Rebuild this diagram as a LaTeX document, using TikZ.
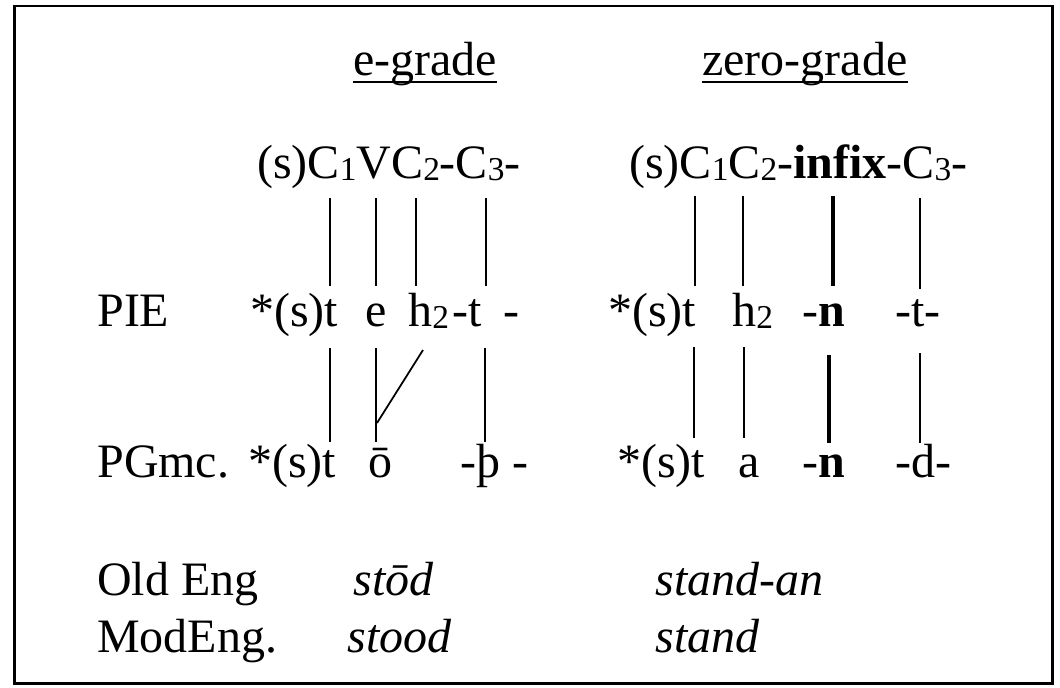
\documentclass[tikz,border=0pt]{standalone}
\usepackage{fontspec}
\setmainfont{Liberation Serif}
\usetikzlibrary{calc}

\newcommand{\subdig}[1]{\raisebox{-0.05em}{\fontsize{19}{19}\selectfont #1}}

\tikzset{
    word/.style={anchor=base west, inner sep=0pt},
    link/.style={line width=1pt},
    boldlink/.style={line width=2.1pt},
}

\begin{document}
\begin{tikzpicture}[x=0.02cm, y=-0.02cm, font=\fontsize{27.3}{33}\selectfont]
    \useasboundingbox (0, 0) rectangle (1060, 687);
    \draw[line width=1.7pt] (14.5, 6) rectangle (1052, 683.5);

    % headings
    \node[word] (egrade) at (353, 75) {e-grade};
    \node[word] (zgrade) at (702, 75) {zero-grade};
    \draw[line width=0.8pt] ($(egrade.base west)+(0, 7)$) -- ($(egrade.base east)+(0, 7)$);
    \draw[line width=0.8pt] ($(zgrade.base west)+(0, 7)$) -- ($(zgrade.base east)+(0, 7)$);

    % root shapes
    \node[word] (eroot) at (257, 178) {(s)C\subdig{1}VC\subdig{2}-C\subdig{3}-};
    \node[word] (zroot) at (629, 178) {(s)C\subdig{1}C\subdig{2}-\textbf{infix}-C\subdig{3}-};

    % row labels
    \node[word] (pie) at (97, 326) {PIE};
    \node[word] (pgmc) at (97, 477) {PGmc.};
    \node[word] (oe) at (97, 595) {Old Eng};
    \node[word] (mode) at (97, 652) {ModEng.};

    % PIE forms
    \node[word] (pieSt) at (250, 326) {*(s)t};
    \node[word] (pieE) at (365, 326) {e};
    \node[word] (pieH) at (408, 326) {h\subdig{2}};
    \node[word] (pieT) at (452, 326) {-t};
    \node[word] (pieDash) at (503, 326) {-};
    \node[word] (pieZSt) at (608, 326) {*(s)t};
    \node[word] (pieZH) at (732, 326) {h\subdig{2}};
    \node[word] (pieZN) at (802, 326) {-\textbf{n}};
    \node[word] (pieZT) at (895, 326) {-t-};

    % PGmc forms
    \node[word] (gmSt) at (248, 477) {*(s)t};
    \node[word] (gmO) at (368, 477) {ō};
    \node[word] (gmTh) at (460, 477) {-þ};
    \node[word] (gmDash) at (512, 477) {-};
    \node[word] (gmZSt) at (617, 477) {*(s)t};
    \node[word] (gmZA) at (738, 477) {a};
    \node[word] (gmZN) at (802, 477) {-\textbf{n}};
    \node[word] (gmZD) at (895, 477) {-d-};

    % English words
    \node[word] (stod) at (353, 595) {\itshape stōd};
    \node[word] (stood) at (347, 652) {\itshape stood};
    \node[word] (standan) at (655, 595) {\itshape stand-an};
    \node[word] (stand) at (655, 652) {\itshape stand};

    % line ends, root to PIE
    \coordinate (eC1) at (330, 198);  \coordinate (eT1) at (330, 286);
    \coordinate (eV) at (376, 198);   \coordinate (eE) at (376, 286);
    \coordinate (eC2) at (416, 198);  \coordinate (eH) at (416, 286);
    \coordinate (eC3) at (486, 198);  \coordinate (eT2) at (486, 286);
    \coordinate (zC1) at (695, 196);  \coordinate (zT1) at (695, 286);
    \coordinate (zC2) at (743, 196);  \coordinate (zH) at (743, 286);
    \coordinate (zIn) at (833, 196);  \coordinate (zN) at (833, 286);
    \coordinate (zC3) at (920, 198);  \coordinate (zT2) at (920, 289);

    % line ends, PIE to PGmc
    \coordinate (pT1) at (330, 348); \coordinate (gT1) at (330, 442);
    \coordinate (pE) at (376, 348);  \coordinate (gO) at (376, 442);
    \coordinate (pH) at (423, 350);  \coordinate (gOH) at (377, 423);
    \coordinate (pT2) at (485, 348); \coordinate (gTh) at (485, 442);
    \coordinate (pZT1) at (694, 347); \coordinate (gZT1) at (694, 438);
    \coordinate (pZH) at (744, 347);  \coordinate (gZA) at (744, 438);
    \coordinate (pZN) at (829, 355);  \coordinate (gZN) at (829, 443);
    \coordinate (pZT2) at (920, 353); \coordinate (gZD) at (920, 443);

    \draw[link] (eC1) -- (eT1);
    \draw[link] (eV) -- (eE);
    \draw[link] (eC2) -- (eH);
    \draw[link] (eC3) -- (eT2);
    \draw[link] (zC1) -- (zT1);
    \draw[link] (zC2) -- (zH);
    \draw[boldlink] (zIn) -- (zN);
    \draw[link] (zC3) -- (zT2);

    \draw[link] (pT1) -- (gT1);
    \draw[link] (pE) -- (gO);
    \draw[link] (pH) -- (gOH);
    \draw[link] (pT2) -- (gTh);
    \draw[link] (pZT1) -- (gZT1);
    \draw[link] (pZH) -- (gZA);
    \draw[boldlink] (pZN) -- (gZN);
    \draw[link] (pZT2) -- (gZD);
\end{tikzpicture}
\end{document}
